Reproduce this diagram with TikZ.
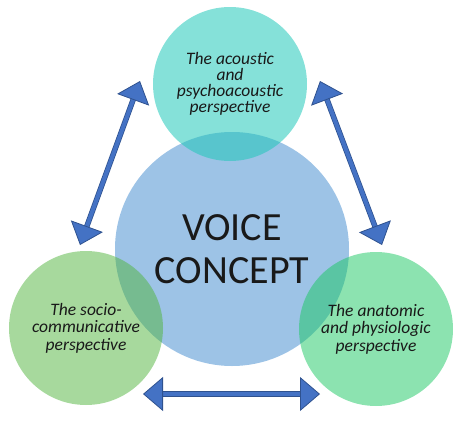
\documentclass[tikz,border=0pt]{standalone}
\usepackage{fontspec}
\setmainfont{Carlito}
\usetikzlibrary{arrows.meta}

\definecolor{voiceblue}{RGB}{157,195,230}
\definecolor{acousticteal}{RGB}{32,200,186}
\definecolor{sociogreen}{RGB}{80,180,60}
\definecolor{anatomicgreen}{RGB}{25,199,97}
\definecolor{linkblue}{RGB}{68,114,196}
\definecolor{linkedge}{RGB}{47,82,143}

\begin{document}
\begin{tikzpicture}[x=1pt, y=-1pt,
    >={Triangle[length=20pt, width=34pt, line width=0.8pt,
        color=linkedge, fill=linkblue]},
    circ/.style={circle, inner sep=0pt, align=center, text=black!90, text opacity=1},
    persp/.style={circ, minimum size=154pt, fill opacity=0.5,
                  font=\itshape\fontsize{17.5}{17.5}\selectfont},
    link/.style={line width=4pt, draw=linkblue, <->,
                 preaction={draw=linkedge, line width=5.5pt, arrows=-,
                            shorten <=12pt, shorten >=12pt}}]
      \useasboundingbox (0,0) rectangle (474,423);

      \node[circ, minimum size=234pt, fill=voiceblue,
            font=\fontsize{40}{43}\selectfont] (voice) at (232,249)
           {VOICE\\CONCEPT};

      \node[persp, fill=acousticteal, fill opacity=0.55,
            font=\itshape\fontsize{17.5}{15.8}\selectfont] (acoustic) at (230,84)
           {The acoustic\\and\\psychoacoustic\\perspective};
      \node[persp, fill=sociogreen] (socio) at (86,328)
           {The socio-\\communicative\\perspective};
      \node[persp, fill=anatomicgreen] (anatomic) at (376,329)
           {The anatomic\\and physiologic\\perspective};

      % arrow ends
      \coordinate (acoustic-l) at (140,81);
      \coordinate (socio-t) at (80,245);
      \coordinate (acoustic-r) at (320,81);
      \coordinate (anatomic-t) at (382,245);
      \coordinate (socio-r) at (143,394);
      \coordinate (anatomic-l) at (320,394);

      \draw[link] (acoustic-l) -- (socio-t);
      \draw[link] (acoustic-r) -- (anatomic-t);
      \draw[link] (socio-r) -- (anatomic-l);
    \end{tikzpicture}
\end{document}
